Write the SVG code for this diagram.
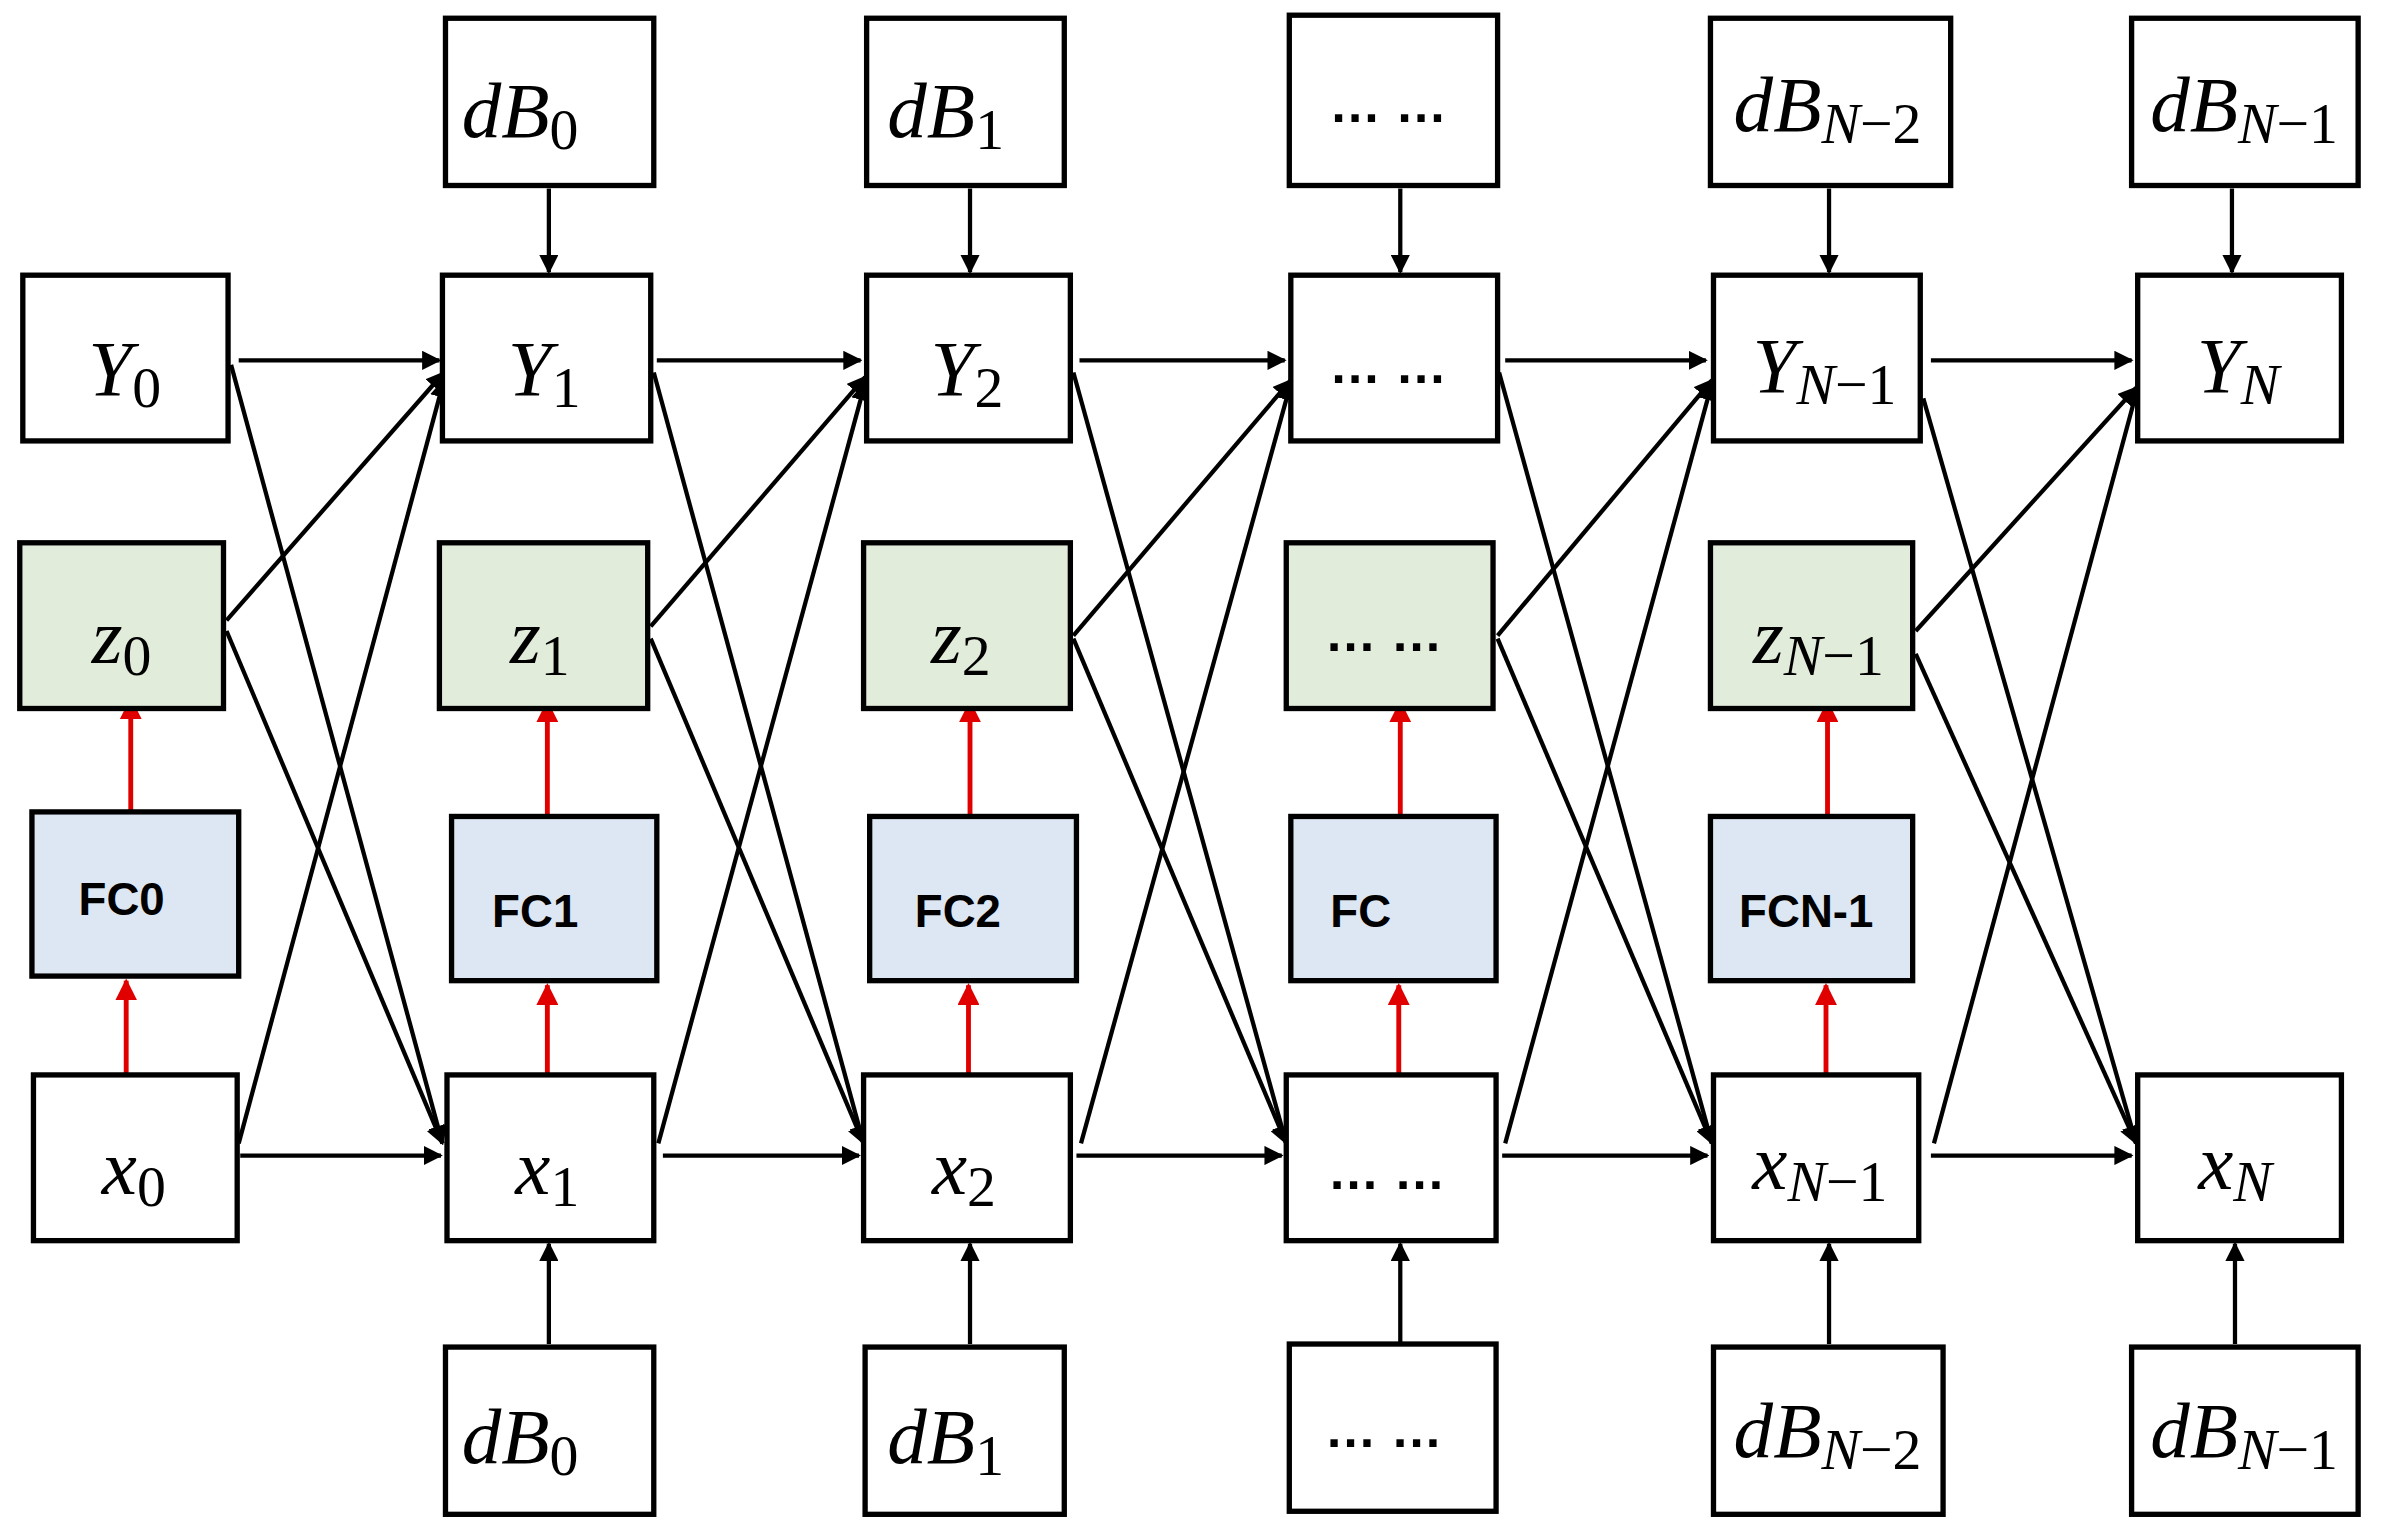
<svg xmlns="http://www.w3.org/2000/svg" width="2384" height="1536" viewBox="0 0 2384 1536">
<defs>
<marker id="ab" viewBox="0 0 10 10" refX="9" refY="5" markerWidth="4.5" markerHeight="4.5" orient="auto"><path d="M0,0 L10,5 L0,10 z" fill="#000"/></marker>
<marker id="ar" viewBox="0 0 10 10" refX="9" refY="5" markerWidth="4.5" markerHeight="4.5" orient="auto"><path d="M0,0 L10,5 L0,10 z" fill="#e00000"/></marker>
<style>
.b{fill:#fff;stroke:#000;stroke-width:3.5}
.g{fill:#e2ecda;stroke:#000;stroke-width:3.5}
.f{fill:#dde7f3;stroke:#000;stroke-width:3.5}
.m{font-family:"Liberation Serif",serif;font-style:italic;font-size:52px;text-anchor:middle}
.s{font-style:normal;font-size:38px}
.n{font-style:italic}
.fc{font-family:"Liberation Sans",sans-serif;font-weight:bold;font-size:30px;text-anchor:middle}
.d{font-family:"Liberation Sans",sans-serif;font-weight:bold;font-size:34px;text-anchor:middle}
.c line{stroke:#000;stroke-width:2.8;marker-end:url(#ab)}
.c line.r{stroke:#e00000;stroke-width:3.2;marker-end:url(#ar)}
</style>
</defs>
<rect width="2384" height="1536" fill="#fff"/>
<g transform="scale(1.5204)">
<g class="c">
<line x1="157" y1="237" x2="289" y2="237"/><line x1="432" y1="237" x2="566" y2="237"/><line x1="710" y1="237" x2="845" y2="237"/><line x1="990" y1="237" x2="1122" y2="237"/><line x1="1270" y1="237" x2="1402" y2="237"/>
<line x1="158" y1="760" x2="290" y2="760"/><line x1="436" y1="760" x2="565" y2="760"/><line x1="708" y1="760" x2="843" y2="760"/><line x1="988" y1="760" x2="1123" y2="760"/><line x1="1270" y1="760" x2="1402" y2="760"/>
<line x1="152" y1="240" x2="291" y2="752"/><line x1="430" y1="245" x2="568" y2="752"/><line x1="706" y1="245" x2="846" y2="752"/><line x1="986" y1="245" x2="1126" y2="752"/><line x1="1265" y1="262" x2="1405" y2="752"/>
<line x1="149" y1="415" x2="291" y2="752"/><line x1="428" y1="420" x2="568" y2="752"/><line x1="706" y1="420" x2="846" y2="752"/><line x1="985" y1="420" x2="1126" y2="752"/><line x1="1260" y1="430" x2="1405" y2="752"/>
<line x1="149" y1="408" x2="292" y2="245"/><line x1="428" y1="412" x2="569" y2="248"/><line x1="706" y1="418" x2="849" y2="250"/><line x1="985" y1="418" x2="1126" y2="250"/><line x1="1260" y1="415" x2="1405" y2="255"/>
<line x1="157" y1="752" x2="292" y2="250"/><line x1="433" y1="752" x2="569" y2="252"/><line x1="711" y1="752" x2="849" y2="252"/><line x1="990" y1="752" x2="1126" y2="252"/><line x1="1272" y1="752" x2="1406" y2="255"/>
<line x1="361" y1="124" x2="361" y2="179"/><line x1="638" y1="124" x2="638" y2="179"/><line x1="921" y1="124" x2="921" y2="179"/><line x1="1203" y1="124" x2="1203" y2="179"/><line x1="1468" y1="124" x2="1468" y2="179"/>
<line x1="361" y1="884" x2="361" y2="818"/><line x1="638" y1="884" x2="638" y2="818"/><line x1="921" y1="884" x2="921" y2="818"/><line x1="1203" y1="884" x2="1203" y2="818"/><line x1="1470" y1="884" x2="1470" y2="818"/>
<line class="r" x1="86" y1="533" x2="86" y2="460"/><line class="r" x1="360" y1="536" x2="360" y2="462"/><line class="r" x1="638" y1="536" x2="638" y2="462"/><line class="r" x1="921" y1="536" x2="921" y2="462"/><line class="r" x1="1202" y1="536" x2="1202" y2="462"/>
<line class="r" x1="83" y1="706" x2="83" y2="645"/><line class="r" x1="360" y1="706" x2="360" y2="648"/><line class="r" x1="637" y1="706" x2="637" y2="648"/><line class="r" x1="920" y1="706" x2="920" y2="648"/><line class="r" x1="1201" y1="706" x2="1201" y2="648"/>
</g>
<g id="Y0"><rect class="b" x="15" y="181" width="135" height="109"/><text class="m" x="82" y="260">Y<tspan class="s" dy="8">0</tspan></text></g>
<g id="z0"><rect class="g" x="13" y="357" width="134" height="109"/><text class="m" x="80" y="436">z<tspan class="s" dy="8">0</tspan></text></g>
<g id="FC0"><rect class="f" x="21" y="534" width="136" height="108"/><text class="fc" x="80" y="602">FC0</text></g>
<g id="x0"><rect class="b" x="22" y="707" width="134" height="109"/><text class="m" x="88" y="785">x<tspan class="s" dy="8">0</tspan></text></g>

<g id="dBt0"><rect class="b" x="293" y="12" width="137" height="110"/><text class="m" x="342" y="90">dB<tspan class="s" dy="8">0</tspan></text></g>
<g id="Y1"><rect class="b" x="291" y="181" width="137" height="109"/><text class="m" x="358" y="260">Y<tspan class="s" dy="8">1</tspan></text></g>
<g id="z1"><rect class="g" x="289" y="357" width="137" height="109"/><text class="m" x="355" y="436">z<tspan class="s" dy="8">1</tspan></text></g>
<g id="FC1"><rect class="f" x="297" y="537" width="135" height="108"/><text class="fc" x="352" y="610">FC1</text></g>
<g id="x1"><rect class="b" x="294" y="707" width="136" height="109"/><text class="m" x="360" y="785">x<tspan class="s" dy="8">1</tspan></text></g>
<g id="dBb0"><rect class="b" x="293" y="886" width="137" height="110"/><text class="m" x="342" y="962">dB<tspan class="s" dy="8">0</tspan></text></g>

<g id="dBt1"><rect class="b" x="570" y="12" width="130" height="110"/><text class="m" x="622" y="90">dB<tspan class="s" dy="8">1</tspan></text></g>
<g id="Y2"><rect class="b" x="570" y="181" width="134" height="109"/><text class="m" x="636" y="260">Y<tspan class="s" dy="8">2</tspan></text></g>
<g id="z2"><rect class="g" x="568" y="357" width="136" height="109"/><text class="m" x="632" y="436">z<tspan class="s" dy="8">2</tspan></text></g>
<g id="FC2"><rect class="f" x="572" y="537" width="136" height="108"/><text class="fc" x="630" y="610">FC2</text></g>
<g id="x2"><rect class="b" x="568" y="707" width="136" height="109"/><text class="m" x="634" y="785">x<tspan class="s" dy="8">2</tspan></text></g>
<g id="dBb1"><rect class="b" x="569" y="886" width="131" height="110"/><text class="m" x="622" y="962">dB<tspan class="s" dy="8">1</tspan></text></g>

<g id="dt3"><rect class="b" x="848" y="10" width="137" height="112"/><text class="d" x="913" y="80">… …</text></g>
<g id="Y3"><rect class="b" x="849" y="181" width="136" height="109"/><text class="d" x="913" y="252">… …</text></g>
<g id="z3"><rect class="g" x="846" y="357" width="136" height="109"/><text class="d" x="910" y="428">… …</text></g>
<g id="FC3"><rect class="f" x="849" y="537" width="135" height="108"/><text class="fc" x="895" y="610">FC</text></g>
<g id="x3"><rect class="b" x="846" y="707" width="138" height="109"/><text class="d" x="912" y="782">… …</text></g>
<g id="db3"><rect class="b" x="848" y="884" width="136" height="110"/><text class="d" x="910" y="952">… …</text></g>

<g id="dBt4"><rect class="b" x="1125" y="12" width="158" height="110"/><text class="m" x="1202" y="86">dB<tspan class="s" dy="8"><tspan class="n">N</tspan>−2</tspan></text></g>
<g id="Y4"><rect class="b" x="1127" y="181" width="136" height="109"/><text class="m" x="1200" y="258">Y<tspan class="s" dy="8"><tspan class="n">N</tspan>−1</tspan></text></g>
<g id="z4"><rect class="g" x="1125" y="357" width="133" height="109"/><text class="m" x="1196" y="436">z<tspan class="s" dy="8"><tspan class="n">N</tspan>−1</tspan></text></g>
<g id="FC4"><rect class="f" x="1125" y="537" width="133" height="108"/><text class="fc" x="1188" y="610">FCN-1</text></g>
<g id="x4"><rect class="b" x="1127" y="707" width="135" height="109"/><text class="m" x="1197" y="782">x<tspan class="s" dy="8"><tspan class="n">N</tspan>−1</tspan></text></g>
<g id="dBb4"><rect class="b" x="1127" y="886" width="151" height="110"/><text class="m" x="1202" y="958">dB<tspan class="s" dy="8"><tspan class="n">N</tspan>−2</tspan></text></g>

<g id="dBt5"><rect class="b" x="1402" y="12" width="149" height="110"/><text class="m" x="1476" y="86">dB<tspan class="s" dy="8"><tspan class="n">N</tspan>−1</tspan></text></g>
<g id="Y5"><rect class="b" x="1406" y="181" width="134" height="109"/><text class="m" x="1472" y="258">Y<tspan class="s n" dy="8">N</tspan></text></g>
<g id="x5"><rect class="b" x="1406" y="707" width="134" height="109"/><text class="m" x="1470" y="782">x<tspan class="s n" dy="8">N</tspan></text></g>
<g id="dBb5"><rect class="b" x="1402" y="886" width="149" height="110"/><text class="m" x="1476" y="958">dB<tspan class="s" dy="8"><tspan class="n">N</tspan>−1</tspan></text></g>
</g>
</svg>
